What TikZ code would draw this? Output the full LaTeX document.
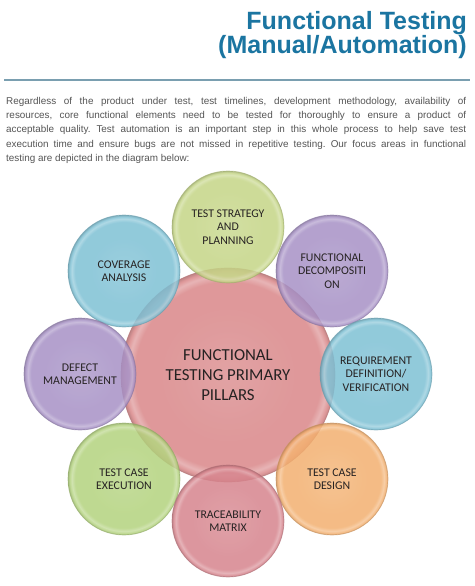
\documentclass[tikz,border=0pt]{standalone}
\usepackage{fontspec}
\setmainfont{Liberation Sans}
\newfontfamily\calib{Carlito}
\definecolor{titleblue}{HTML}{1B75A1}
\definecolor{rulecol}{HTML}{7A9FB0}
\definecolor{paratext}{HTML}{555555}
\definecolor{bubtext}{HTML}{262222}
\definecolor{cYG}{HTML}{C4D585}
\definecolor{cBlue}{HTML}{7CC0D4}
\definecolor{cPurp}{HTML}{A690C5}
\definecolor{cGreen}{HTML}{B2D27C}
\definecolor{cOrange}{HTML}{F3AF6E}
\definecolor{cRed}{HTML}{D6838C}
\definecolor{cBig}{HTML}{D98587}
\colorlet{gA}{white}\colorlet{gB}{white}\colorlet{gC}{white}\colorlet{gL}{white}
\pgfdeclareradialshading[gA,gB,gC,gL]{glass}{\pgfpoint{0bp}{0bp}}{%
 color(0bp)=(gA); color(16bp)=(gB); color(21.8bp)=(gB); color(23.3bp)=(gL);
 color(24.3bp)=(gB); color(25bp)=(gC); color(50bp)=(gC)}
\tikzset{
 bub/.style={circle, minimum size=112pt, inner sep=0pt, align=center,
   shading=glass, fill opacity=0.84, text opacity=1, draw=gC, draw opacity=0.6,
   line width=0.7pt, text=bubtext, font=\calib\fontsize{11.8}{13.4}\selectfont},
 bigbub/.style={bub, minimum size=214pt, font=\calib\fontsize{16.8}{20}\selectfont},
 titletext/.style={anchor=base east, inner sep=0pt, text=titleblue,
   font=\bfseries\fontsize{25}{25}\selectfont},
}
\newcommand\glasscolors[1]{%
 \colorlet{gA}{#1!90!white}\colorlet{gB}{#1}\colorlet{gC}{#1!82!black}\colorlet{gL}{#1!72!white}}
\begin{document}
\begin{tikzpicture}[x=1pt,y=-1pt]
\useasboundingbox (0,0) rectangle (474,586);
\fill[white] (0,0) rectangle (474,586);
% title
\node[titletext] (title1) at (467,30) {Functional Testing};
\node[titletext] (title2) at (467,54) {(Manual/Automation)};
\coordinate (ruleL) at (4,80);
\coordinate (ruleR) at (470,80);
\draw[rulecol, line width=1.4pt] (ruleL) -- (ruleR);
% paragraph
\node[anchor=north west, inner sep=0pt, text width=460pt, align=justify, text=paratext,
  font=\fontsize{9.9}{14.3}\selectfont] (para) at (6,97) {\hyphenpenalty=10000\frenchspacing
Regardless of the product under test, test timelines, development methodology, availability of\linebreak
resources, core functional elements need to be tested for thoroughly to ensure a product of\linebreak
acceptable quality. Test automation is an important step in this whole process to help save test\linebreak
execution time and ensure bugs are not missed in repetitive testing. Our focus areas in functional\linebreak
testing are depicted in the diagram below:};
% big circle
\glasscolors{cBig}
\node[bigbub] (center) at (228,375) {FUNCTIONAL\\TESTING PRIMARY\\PILLARS};
% surrounding bubbles
\glasscolors{cYG}
\node[bub] (strat) at (228,227) {TEST STRATEGY\\AND\\PLANNING};
\glasscolors{cBlue}
\node[bub] (cov) at (124,271) {COVERAGE\\ANALYSIS};
\glasscolors{cPurp}
\node[bub] (func) at (332,271) {FUNCTIONAL\\DECOMPOSITI\\ON};
\glasscolors{cPurp}
\node[bub] (defect) at (80,374) {DEFECT\\MANAGEMENT};
\glasscolors{cBlue}
\node[bub] (req) at (376,374) {REQUIREMENT\\DEFINITION/\\VERIFICATION};
\glasscolors{cGreen}
\node[bub] (exec) at (124,479) {TEST CASE\\EXECUTION};
\glasscolors{cOrange}
\node[bub] (design) at (332,479) {TEST CASE\\DESIGN};
\glasscolors{cRed}
\node[bub] (trace) at (228,521) {TRACEABILITY\\MATRIX};
\end{tikzpicture}
\end{document}
